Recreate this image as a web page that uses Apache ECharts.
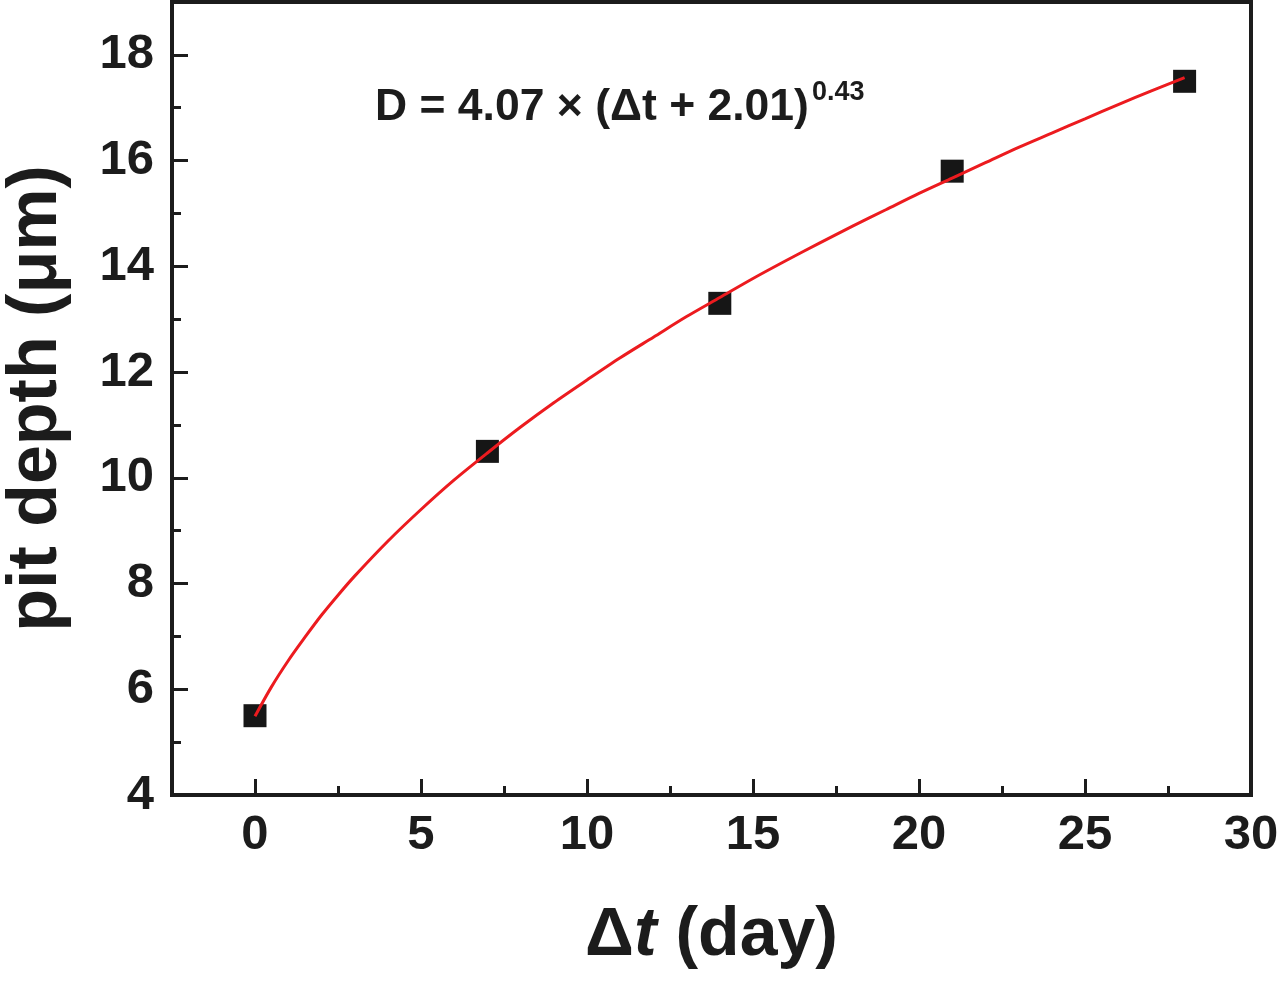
<!DOCTYPE html>
<html>
<head>
<meta charset="utf-8">
<script src="https://cdn.jsdelivr.net/npm/echarts@6/dist/echarts.min.js"></script>
<style>html,body{margin:0;padding:0;background:#fff;}#c{width:1280px;height:987px;}</style>
</head>
<body>
<div id="c"></div>
<script>
// measured data points (Δt in days, pit depth in µm)
var dayValues = [0, 7, 14, 21, 28];
var depthValues = [5.5, 10.5, 13.3, 15.8, 17.5];
// fitted curve
var fitDays = [0, 0.5, 1, 1.5, 2, 2.5, 3, 4, 5, 6, 7, 8, 9, 10, 11, 12, 13, 14, 15, 16, 17, 18, 19, 20, 21, 22, 23, 24, 25, 26, 27, 28];
var fitDepths = [5.49, 6.05, 6.54, 6.98, 7.40, 7.78, 8.14, 8.80, 9.40, 9.96, 10.47, 10.96, 11.42, 11.85, 12.27, 12.66, 13.05, 13.41, 13.77, 14.11, 14.44, 14.76, 15.07, 15.38, 15.67, 15.96, 16.25, 16.52, 16.79, 17.06, 17.32, 17.57];
var formulaMain = 'D = 4.07 × (Δt + 2.01)';
var formulaExp = '0.43';
var xTitle = ['Δ', 't', ' (day)'];
var yTitle = 'pit depth (μm)';

var FONT = '"Liberation Sans", Arial, Helvetica, sans-serif';
var INK = '#1c1c1c';

var chart = echarts.init(document.getElementById('c'), null, {renderer: 'canvas'});
var scatterData = dayValues.map(function (d, i) { return [d, depthValues[i]]; });
var fitData = fitDays.map(function (d, i) { return [d, fitDepths[i]]; });

chart.setOption({
  animation: false,
  backgroundColor: '#fff',
  grid: {
    left: 172, right: 29, top: 2, bottom: 192,
    containLabel: false, outerBoundsMode: 'none',
    show: true, borderColor: INK, borderWidth: 4, backgroundColor: 'transparent'
  },
  xAxis: [{
    type: 'value', min: -2.5, max: 30, splitNumber: 5,
    position: 'bottom',
    name: '{d|' + xTitle[0] + '}{i|' + xTitle[1] + '}{n|' + xTitle[2] + '}',
    nameLocation: 'middle', nameGap: 107,
    nameTextStyle: {
      rich: {
        d: {fontFamily: FONT, fontWeight: 'bold', fontSize: 68, color: INK},
        i: {fontFamily: FONT, fontWeight: 'bold', fontStyle: 'italic', fontSize: 68, color: INK},
        n: {fontFamily: FONT, fontWeight: 'bold', fontSize: 68, color: INK}
      }
    },
    axisLine: {show: true, onZero: false, lineStyle: {color: INK, width: 4}},
    axisTick: {show: true, inside: true, length: 16, lineStyle: {color: INK, width: 3}},
    axisLabel: {
      margin: 16, fontFamily: FONT, fontWeight: 'bold', fontSize: 49, color: INK,
      formatter: function (v) { return (Math.abs(v % 5) < 1e-9) ? String(v) : ''; }
    },
    splitLine: {show: false}
  }, {
    type: 'value', min: -2.5, max: 30, interval: 2.5,
    position: 'bottom',
    axisLine: {show: false, onZero: false},
    axisTick: {show: true, inside: true, length: 9, lineStyle: {color: INK, width: 3}},
    axisLabel: {show: false},
    splitLine: {show: false}
  }],
  yAxis: [{
    type: 'value', min: 4, max: 19, interval: 2,
    position: 'left',
    name: yTitle, nameLocation: 'middle', nameGap: 100,
    nameTextStyle: {fontFamily: FONT, fontWeight: 'bold', fontSize: 70, color: INK},
    axisLine: {show: true, onZero: false, lineStyle: {color: INK, width: 4}},
    axisTick: {show: true, inside: true, length: 16, lineStyle: {color: INK, width: 3}},
    axisLabel: {
      margin: 18, fontFamily: FONT, fontWeight: 'bold', fontSize: 49, color: INK,
      formatter: function (v) { return (v % 2 === 0 && v <= 18) ? String(v) : ''; }
    },
    splitLine: {show: false}
  }, {
    type: 'value', min: 4, max: 19, interval: 1,
    position: 'left',
    axisLine: {show: false, onZero: false},
    axisTick: {show: true, inside: true, length: 9, lineStyle: {color: INK, width: 3}},
    axisLabel: {show: false},
    splitLine: {show: false}
  }],
  graphic: [{
    type: 'text', left: 375, top: 85, z: 100,
    style: {text: formulaMain, font: 'bold 44.5px ' + FONT, fill: INK}
  }, {
    type: 'text', left: 812, top: 79, z: 100,
    style: {text: formulaExp, font: 'bold 27px ' + FONT, fill: INK}
  }],
  series: [{
    type: 'scatter', xAxisIndex: 0, yAxisIndex: 0,
    data: scatterData, symbol: 'rect', symbolSize: 23,
    itemStyle: {color: '#161616', opacity: 1}, z: 2
  }, {
    type: 'line', xAxisIndex: 0, yAxisIndex: 0,
    data: fitData, smooth: 0.3, showSymbol: false, symbol: 'none',
    lineStyle: {color: '#ec1b1f', width: 3}, z: 3
  }]
});
</script>
</body>
</html>
